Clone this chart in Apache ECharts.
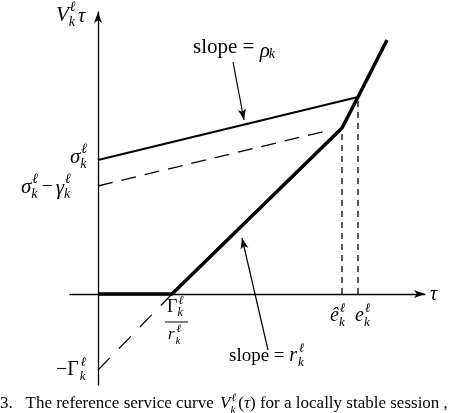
<!DOCTYPE html>
<html>
<head>
<meta charset="utf-8">
<script src="https://cdn.jsdelivr.net/npm/echarts@6/dist/echarts.min.js"></script>
<style>
  html, body { margin: 0; padding: 0; background: #fff; }
  #main { width: 474px; height: 413px; }
</style>
</head>
<body>
<div id="main"></div>
<script>
// curve break points (tau, V) in arbitrary units
var servicePts = [[0, 0], [7.4, 0], [24.4, 16.6], [26, 19.7], [28.9, 25.4]];
var rhoLine = [[0, 13.4], [26, 19.7]];
var gammaLine = [[0, 10.8], [23.2, 16.4]];
var negExt = [[0, -7.6], [7.4, 0]];
var eHatDrop = [[24.4, 0], [24.4, 16.6]];
var eDrop = [[26, 0], [26, 19.7]];
var arrowRho = [[13.5, 23.2], [14.6, 17.4]];
var arrowR = [[17.0, -5.6], [14.4, 5.6]];

var chart = echarts.init(document.getElementById('main'));

var SERIF = '"Liberation Serif", "DejaVu Serif", serif';
var ctx = document.createElement('canvas').getContext('2d');

function fontOf(size, italic) {
  return (italic ? 'italic ' : '') + size + 'px ' + SERIF;
}
function width(s, size, italic) {
  ctx.font = fontOf(size, italic);
  return ctx.measureText(s).width;
}
function txt(x, y, s, size, italic) {
  return {
    type: 'text', x: x, y: y, silent: true,
    style: {
      text: s, font: fontOf(size, italic), fill: '#000',
      textAlign: 'left', textVerticalAlign: 'middle'
    }
  };
}
// lay out a row of text pieces; a piece may carry stacked sup/sub
function row(x, y, parts) {
  var out = [];
  parts.forEach(function (p) {
    x += p.gap || 0;
    out.push(txt(x, y + (p.dy || 0), p.t, p.s, p.i));
    x += width(p.t, p.s, p.i);
    if (p.sup || p.sub) {
      var ss = p.ss || Math.round(p.s * 0.67);
      var sx = x + (p.sg || 0);
      var w = 0;
      if (p.sup) { out.push(txt(sx, y - p.s * 0.36, p.sup, ss, true)); w = Math.max(w, width(p.sup, ss, true)); }
      if (p.sub) { out.push(txt(sx - 1, y + p.s * 0.34, p.sub, ss, true)); w = Math.max(w, width(p.sub, ss, true)); }
      x = sx + w;
    }
  });
  return out;
}

function lineSeries(data, width, dash) {
  return {
    type: 'line', data: data, showSymbol: false, symbol: 'none',
    silent: true, animation: false,
    lineStyle: { color: '#000', width: width, type: dash || 'solid' }
  };
}
function arrowSeries(data) {
  return {
    type: 'line', data: [], silent: true,
    markLine: {
      silent: true, symbol: ['none', 'arrow'], symbolSize: [6, 11],
      label: { show: false }, emphasis: { disabled: true },
      lineStyle: { color: '#000', width: 1.2, type: 'solid' },
      data: [[{ coord: data[0] }, { coord: data[1] }]]
    }
  };
}

var L = 'ℓ';
var graphics = []
  .concat(row(56, 15, [{ t: 'V', s: 21, i: true, sup: L, sub: 'k', sg: 1 }, { t: 'τ', s: 20, i: true, gap: 2, dy: 2 }]))
  .concat(row(70, 157, [{ t: 'σ', s: 21, i: true, sup: L, sub: 'k', sg: 1 }]))
  .concat(row(21, 187, [
    { t: 'σ', s: 21, i: true, sup: L, sub: 'k', sg: 1 },
    { t: '−', s: 20, gap: 3 },
    { t: 'γ', s: 21, i: true, gap: 3, dy: 1, sup: L, sub: 'k', sg: 1 }
  ]))
  .concat(row(167, 307, [{ t: 'Γ', s: 18, sup: L, sub: 'k', sg: 1 }]))
  .concat([{ type: 'line', silent: true, shape: { x1: 165, y1: 322, x2: 188, y2: 322 }, style: { stroke: '#000', lineWidth: 1 } }])
  .concat(row(168, 335, [{ t: 'r', s: 17, i: true, sup: L, sub: 'k', sg: 2 }]))
  .concat(row(56, 370, [{ t: '−Γ', s: 20, sup: L, sub: 'k', sg: 2 }]))
  .concat(row(330, 316, [{ t: 'ê', s: 20, i: true, sup: L, sub: 'k', sg: 1 }]))
  .concat(row(355, 316, [{ t: 'e', s: 20, i: true, sup: L, sub: 'k', sg: 1 }]))
  .concat(row(430, 295, [{ t: 'τ', s: 20, i: true }]))
  .concat(row(193, 47, [{ t: 'slope = ', s: 21 }, { t: 'ρ', s: 21, i: true, dy: 4, sub: 'k', ss: 14 }]))
  .concat(row(229, 356, [{ t: 'slope = ', s: 19 }, { t: 'r', s: 20, i: true, sup: L, sub: 'k', sg: 2 }]))
  .concat(row(0, 404, [
    { t: '3.   The reference service curve ', s: 17 },
    { t: 'V', s: 17, i: true, gap: 2, sup: L, sub: 'k', ss: 11, sg: 1 },
    { t: '(', s: 17, gap: 2 }, { t: 'τ', s: 17, i: true }, { t: ') for a locally stable session ,', s: 17 }
  ]));

chart.setOption({
  animation: false,
  backgroundColor: '#fff',
  grid: { left: 70, right: 49, top: 12, bottom: 28 },
  xAxis: {
    type: 'value', min: -2.8, max: 32.7,
    axisLine: { onZero: true, symbol: ['none', 'arrow'], symbolSize: [6, 11], lineStyle: { color: '#000', width: 1.3 } },
    axisTick: { show: false }, axisLabel: { show: false }, splitLine: { show: false }
  },
  yAxis: {
    type: 'value', min: -9.1, max: 28.2,
    axisLine: { onZero: true, symbol: ['none', 'arrow'], symbolSize: [6, 11], lineStyle: { color: '#000', width: 1.3 } },
    axisTick: { show: false }, axisLabel: { show: false }, splitLine: { show: false }
  },
  series: [
    lineSeries(rhoLine, 2),
    lineSeries(gammaLine, 1.3, [15, 9]),
    lineSeries(negExt, 1.2, [17, 13]),
    lineSeries(eHatDrop, 1.3, [6, 5]),
    lineSeries(eDrop, 1.3, [6, 5]),
    lineSeries(servicePts, 3.5),
    arrowSeries(arrowRho),
    arrowSeries(arrowR)
  ],
  graphic: graphics
});
</script>
</body>
</html>
